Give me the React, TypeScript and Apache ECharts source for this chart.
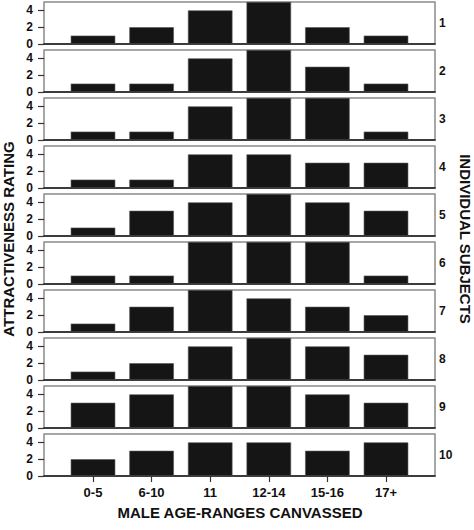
import React, { useEffect, useRef } from "react";
import * as echarts from "echarts";

const categories = ["0-5", "6-10", "11", "12-14", "15-16", "17+"];
const subjects = ["1", "2", "3", "4", "5", "6", "7", "8", "9", "10"];
const subject1 = [1, 2, 4, 5, 2, 1];
const subject2 = [1, 1, 4, 5, 3, 1];
const subject3 = [1, 1, 4, 5, 5, 1];
const subject4 = [1, 1, 4, 4, 3, 3];
const subject5 = [1, 3, 4, 5, 4, 3];
const subject6 = [1, 1, 5, 5, 5, 1];
const subject7 = [1, 3, 5, 4, 3, 2];
const subject8 = [1, 2, 4, 5, 4, 3];
const subject9 = [3, 4, 5, 5, 4, 3];
const subject10 = [2, 3, 4, 4, 3, 4];
const ratings = [subject1, subject2, subject3, subject4, subject5, subject6, subject7, subject8, subject9, subject10];
const yTicks = [0, 2, 4];
const yMin = 0;
const yMax = 5;

const FONT = "'Liberation Sans', Arial, sans-serif";
const INK = "#111";

export default function App() {
  const ref = useRef<HTMLDivElement>(null);
  useEffect(() => {
    if (!ref.current) return;
    const chart = echarts.init(ref.current, undefined, { renderer: "svg" });
    const PANEL_TOP = 2;
    const PANEL_STEP = 48;
    const PANEL_H = 42;
    const FRAME_LEFT = 44;
    const FRAME_W = 391;
    const INNER_LEFT = 63.7;
    const INNER_W = 351.6;

    const grids: any[] = [];
    const xAxes: any[] = [];
    const yAxes: any[] = [];
    const series: any[] = [];
    const graphics: any[] = [];

    ratings.forEach((vals, i) => {
      const top = PANEL_TOP + i * PANEL_STEP;
      const last = i === ratings.length - 1;
      grids.push({
        left: FRAME_LEFT, width: FRAME_W, top, height: PANEL_H,
        show: true, borderColor: "#8a8a8a", borderWidth: 1.5, backgroundColor: "transparent",
        containLabel: false, outerBoundsMode: "none",
      });
      grids.push({
        left: INNER_LEFT, width: INNER_W, top, height: PANEL_H,
        containLabel: false, outerBoundsMode: "none",
      });
      const g0 = 2 * i;
      const g1 = 2 * i + 1;
      xAxes.push({
        gridIndex: g0, type: "value", min: 0, max: 1, position: "bottom",
        axisLine: { show: true, onZero: false, lineStyle: { color: "#1a1a1a", width: 1.6 } },
        axisTick: { show: false }, axisLabel: { show: false }, splitLine: { show: false },
      });
      xAxes.push({
        gridIndex: g1, type: "category", data: categories, position: "bottom",
        axisLine: { show: false, onZero: false },
        axisTick: { show: last, alignWithLabel: true, length: 6, lineStyle: { color: "#333", width: 1.2 } },
        axisLabel: { show: last, margin: 10, fontSize: 13, fontWeight: "bold", fontFamily: FONT, color: INK },
        splitLine: { show: false },
      });
      yAxes.push({
        gridIndex: g0, type: "value", min: yMin, max: yMax,
        axisLine: { show: false },
        axisTick: { show: true, customValues: yTicks, length: 6, lineStyle: { color: "#333", width: 1.2 } },
        axisLabel: { customValues: yTicks, margin: 11, fontSize: 12, fontWeight: "bold", fontFamily: FONT, color: INK },
        splitLine: { show: false },
      });
      yAxes.push({ gridIndex: g1, type: "value", min: yMin, max: yMax, show: false, splitLine: { show: false } });
      series.push({
        type: "bar", xAxisIndex: g1, yAxisIndex: g1, data: vals, barWidth: "76%",
        itemStyle: { color: "#151515", borderColor: "#555", borderWidth: 0.6 },
      });
      graphics.push({
        type: "text", x: 439, y: top + PANEL_H / 2,
        style: { text: subjects[i], font: `bold 12px ${FONT}`, fill: INK, textAlign: "left", textVerticalAlign: "middle" },
      });
    });

    graphics.push({
      type: "text", x: 8, y: 239, rotation: Math.PI / 2,
      style: { text: "ATTRACTIVENESS RATING", font: `bold 15px ${FONT}`, fill: INK, textAlign: "center", textVerticalAlign: "middle" },
    });
    graphics.push({
      type: "text", x: 465, y: 239, rotation: -Math.PI / 2,
      style: { text: "INDIVIDUAL SUBJECTS", font: `bold 15px ${FONT}`, fill: INK, textAlign: "center", textVerticalAlign: "middle" },
    });
    graphics.push({
      type: "text", x: 240, y: 512,
      style: { text: "MALE AGE-RANGES CANVASSED", font: `bold 15px ${FONT}`, fill: INK, textAlign: "center", textVerticalAlign: "middle" },
    });

    chart.setOption({
      animation: false,
      backgroundColor: "#fff",
      grid: grids,
      xAxis: xAxes,
      yAxis: yAxes,
      series,
      graphic: graphics,
    });
    return () => chart.dispose();
  }, []);
  return (
    <div
      ref={ref}
      style={{ position: "fixed", left: 0, top: 0, width: 474, height: 530, background: "#fff" }}
    />
  );
}
